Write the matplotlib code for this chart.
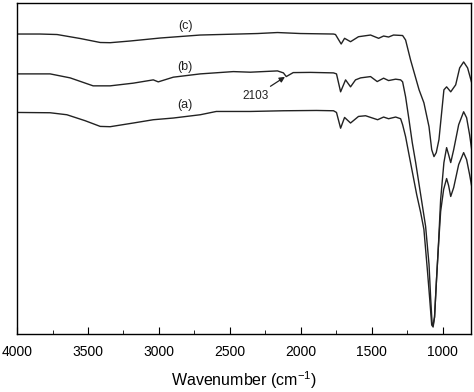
import matplotlib
matplotlib.use('Agg')
import matplotlib.pyplot as plt
from matplotlib.ticker import MultipleLocator

plt.rcParams['font.family'] = ['Liberation Sans', 'DejaVu Sans']

# FTIR spectra (transmittance in arbitrary units, offset)
wn_c = [4000, 3838, 3718, 3555, 3414, 3344, 3203, 2991, 2709, 2306, 2165, 2003, 1770, 1756,
        1716, 1692, 1650, 1594, 1509, 1452, 1417, 1382, 1347, 1283, 1262, 1227, 1167, 1133,
        1097, 1078, 1062, 1046, 1027, 992, 973, 944, 909, 881, 853, 825, 796]
t_c = [301, 301, 300.5, 296.5, 292.5, 292.3, 294, 297, 300, 301.5, 302.5, 301.5, 301, 300.5,
       291, 296.7, 293.3, 298.3, 300, 296.7, 299, 298, 300, 299.5, 295, 275, 245, 232,
       208, 185, 178, 182, 195, 245, 248, 243, 250, 267, 273, 267, 252]

wn_b = [4000, 3767, 3626, 3464, 3344, 3181, 3083, 3040, 3005, 2899, 2709, 2476, 2356, 2165,
        2123, 2103, 2054, 1932, 1770, 1749, 1720, 1685, 1650, 1615, 1579, 1509, 1462, 1417,
        1382, 1332, 1297, 1283, 1262, 1238, 1215, 1191, 1156, 1121, 1097, 1085, 1075, 1068,
        1058, 1044, 1032, 1015, 992, 973, 959, 944, 923, 888, 853, 832, 811, 796]
t_b = [261, 261, 257, 249, 249, 251.7, 254, 255, 253, 257.7, 261, 263.3, 262.7, 264,
       262, 258.3, 262.3, 262.5, 262, 261, 243, 255, 248, 255, 257, 258.3, 253.3, 256.7,
       254.3, 255.7, 255, 253, 238, 215, 192, 172, 140, 108, 70, 35, 10, 9,
       17, 55, 85, 135, 172, 187, 180, 172, 185, 210, 223, 217, 200, 185]

wn_a = [4000, 3767, 3649, 3520, 3414, 3344, 3181, 3040, 2899, 2709, 2596, 2356, 2123, 1890,
        1770, 1749, 1720, 1692, 1650, 1594, 1544, 1459, 1417, 1382, 1332, 1297, 1283, 1262,
        1238, 1215, 1184, 1156, 1133, 1109, 1092, 1078, 1068, 1058, 1044, 1032, 1015, 994,
        973, 959, 944, 923, 888, 853, 832, 811, 796]
t_a = [222.3, 222, 220, 214, 208.3, 208, 211.7, 215, 216.7, 220, 223.3, 223.3, 224, 224.3,
       224, 222.3, 206.5, 217.3, 211.7, 218.3, 219, 215, 217.7, 216, 217.7, 216, 210, 198,
       180, 163, 140, 122, 105, 65, 35, 9, 7, 17, 55, 85, 123, 145,
       156, 149, 138, 147, 170, 182, 175, 160, 148]

labels = ['(a)', '(b)', '(c)']
label_wn = [2814, 2814, 2814]
label_t = [230, 268, 309]

fig = plt.figure(figsize=(4.74, 3.92), dpi=100)
ax = fig.add_axes([0.036, 0.148, 0.958, 0.844])

for wn, t in [(wn_a, t_a), (wn_b, t_b), (wn_c, t_c)]:
    ax.plot(wn, t, color='#222222', lw=1.0)

for lab, x, y in zip(labels, label_wn, label_t):
    ax.text(x, y, lab, fontsize=9, ha='center', va='center', color='#222222')

ax.annotate('2103', xy=(2112, 258), xytext=(2318, 239), fontsize=8.5,
            ha='center', va='center', color='#222222',
            arrowprops=dict(arrowstyle='-|>', color='#222222', lw=0.9,
                            mutation_scale=8, shrinkA=1, shrinkB=0))

ax.set_xlim(4000, 800)
ax.set_ylim(0, 332)
ax.xaxis.set_major_locator(MultipleLocator(500))
ax.xaxis.set_minor_locator(MultipleLocator(250))
ax.tick_params(axis='x', which='major', direction='in', length=5, labelsize=10, pad=8)
ax.tick_params(axis='x', which='minor', direction='in', length=3)
ax.set_yticks([])
for s in ax.spines.values():
    s.set_linewidth(1.0)

ax.set_xlabel('Wavenumber (cm$^{\\mathregular{-1}}$)', fontsize=11.5, labelpad=7)

fig.savefig('out.png', dpi=100)
